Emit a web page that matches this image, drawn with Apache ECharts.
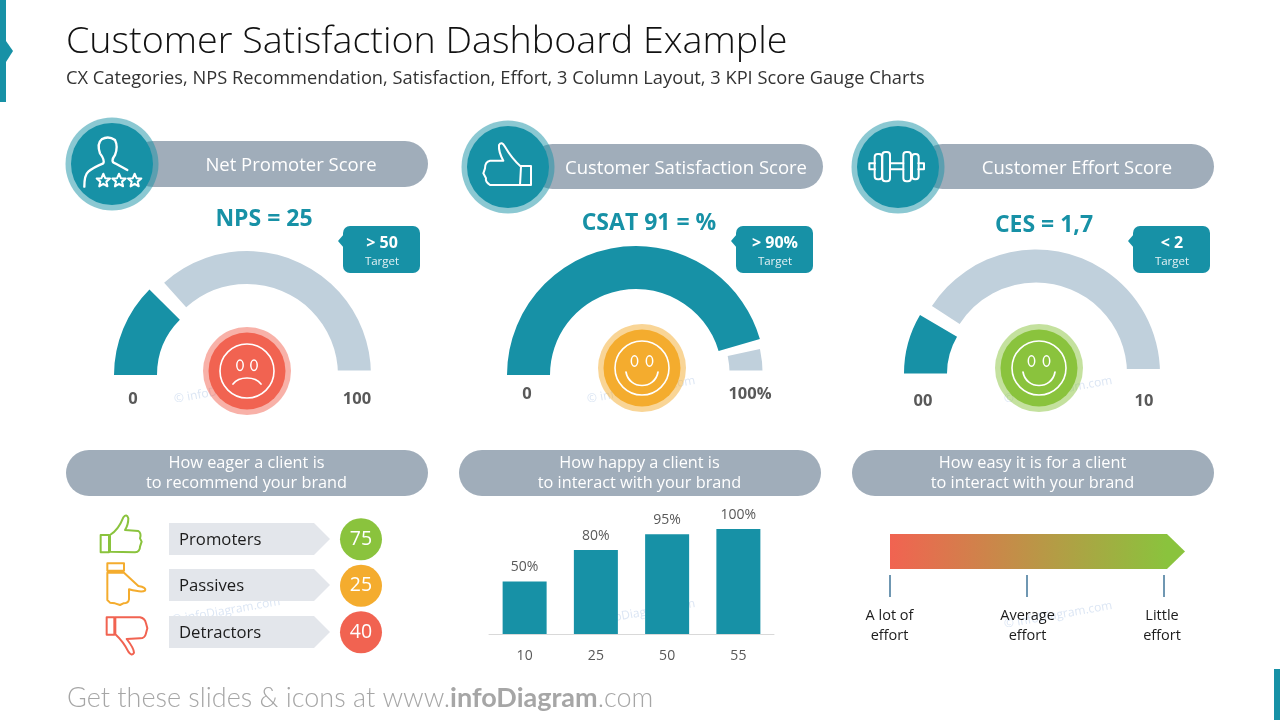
<!DOCTYPE html>
<html>
<head>
<meta charset="utf-8">
<title>Customer Satisfaction Dashboard Example</title>
<script src="https://cdn.jsdelivr.net/npm/echarts@6/dist/echarts.min.js"></script>
<style>
  html, body { margin: 0; padding: 0; background: #fff; }
  #chart { width: 1280px; height: 720px; }
</style>
</head>
<body>
<div id="chart"></div>
<script>
(function (echarts) {
  "use strict";

  var TEAL = '#1791A6', LIGHT = '#C0D0DC', PILL = '#A0ADBA', GREEN = '#8AC33D',
      ORANGE = '#F4AC2E', RED = '#F16351', DARK = '#595959', INK = '#1C1C1C',
      FONT = '"Open Sans", sans-serif';

  // gauge values: filled part, remainder
  var npsGauge = [25, 75];
  var csatGauge = [91, 9];
  var cesGauge = [17, 83];
  // blank part between the two pieces, same units as the gauge
  var gaugeGaps = [1.7, 2.3, 1.3];

  var kpiTitles = ['NPS = 25', 'CSAT 91 = %', 'CES = 1,7'];
  var kpiTargets = ['> 50', '> 90%', '< 2'];
  var scoreNames = ['Net Promoter Score', 'Customer Satisfaction Score', 'Customer Effort Score'];
  var gaugeMin = ['0', '0', '00'];
  var gaugeMax = ['100', '100%', '10'];
  var questions = [
    'How eager a client is\nto recommend your brand',
    'How happy a client is\nto interact with your brand',
    'How easy it is for a client\nto interact with your brand'
  ];

  var npsGroups = ['Promoters', 'Passives', 'Detractors'];
  var npsCounts = [75, 25, 40];
  var npsColors = [GREEN, ORANGE, RED];

  var csatCategories = ['10', '25', '50', '55'];
  var csatValues = [50, 80, 95, 100];

  var effortLabels = ['A lot of\neffort', 'Average\neffort', 'Little\neffort'];

  // half doughnut piece, the bottom half stays off because of endAngle
  function gaugePiece(center, radius, before, value, after, color) {
    var hidden = { color: 'rgba(0,0,0,0)' };
    return {
      type: 'pie',
      center: center,
      radius: radius,
      startAngle: 180,
      endAngle: 0,
      silent: true,
      z: 2,
      label: { show: false },
      labelLine: { show: false },
      data: [
        { value: before, itemStyle: hidden },
        { value: value, itemStyle: { color: color } },
        { value: after, itemStyle: hidden }
      ]
    };
  }

  function text(str, x, y, size, fill, extra) {
    var style = {
      text: str, x: x, y: y + 1, fill: fill, fontSize: size, fontFamily: FONT,
      align: 'center', verticalAlign: 'middle', lineHeight: Math.round(size * 1.3)
    };
    for (var k in (extra || {})) { style[k] = extra[k]; }
    return { type: 'text', z: 20, silent: true, style: style };
  }

  function rect(x, y, w, h, r, fill, z) {
    return { type: 'rect', z: z || 1, silent: true, shape: { x: x, y: y, width: w, height: h, r: r }, style: { fill: fill } };
  }

  function circle(cx, cy, r, style, z) {
    return { type: 'circle', z: z || 10, silent: true, shape: { cx: cx, cy: cy, r: r }, style: style };
  }

  var iconCount = 0;

  // graphic has no plain path type, so each traced outline gets a shape of its own
  // icon paths were traced at 3x, so they get scaled back down
  function icon(ox, oy, d, stroke, width, z) {
    var name = 'iconShape' + (iconCount++);
    echarts.graphic.registerShape(name, echarts.graphic.extendPath(d, {}));
    return {
      type: name, z: z || 12, silent: true, x: ox, y: oy, scaleX: 1 / 3, scaleY: 1 / 3,
      style: { fill: 'none', stroke: stroke, lineWidth: width, lineJoin: 'round', lineCap: 'round' }
    };
  }

  function star(cx, cy, r) {
    var pts = [];
    for (var i = 0; i < 10; i++) {
      var a = -Math.PI / 2 + i * Math.PI / 5, rr = i % 2 ? r * 0.45 : r;
      pts.push((i ? 'L' : 'M') + (cx + rr * Math.cos(a)).toFixed(1) + ' ' + (cy + rr * Math.sin(a)).toFixed(1));
    }
    return pts.join(' ') + ' Z ';
  }

  function watermark(cx, cy) {
    var el = text('\u00a9 infoDiagram.com', 0, 0, 12, '#DCE6F4', {});
    el.z = 0;
    el.x = cx;
    el.y = cy;
    el.rotation = 10 * Math.PI / 180;
    return el;
  }

  function face(cx, cy, color, happy) {
    var d = happy
      ? 'M -16 4 C -13 22 13 22 16 4'
      : 'M -14 13 C -8 5 8 5 14 13';
    var mouth = icon(cx, cy, d, '#fff', 1.7);
    mouth.scaleX = mouth.scaleY = 1;
    var eyeX = happy ? 7.5 : 7, eyeY = happy ? -7 : -5.7;
    return [
      circle(cx, cy, 44, { fill: color, opacity: 0.5 }, 10),
      circle(cx, cy, 38.5, { fill: color }, 11),
      circle(cx, cy, 27, { fill: 'none', stroke: '#fff', lineWidth: 1.6 }, 12),
      { type: 'ellipse', z: 12, silent: true, shape: { cx: cx - eyeX, cy: cy + eyeY, rx: 3.2, ry: 5.2 }, style: { fill: 'none', stroke: '#fff', lineWidth: 1.5 } },
      { type: 'ellipse', z: 12, silent: true, shape: { cx: cx + eyeX, cy: cy + eyeY, rx: 3.2, ry: 5.2 }, style: { fill: 'none', stroke: '#fff', lineWidth: 1.5 } },
      mouth
    ];
  }

  var headers = [
    { x: 130, y: 141, right: 428, h: 46, cx: 112, cy: 164, tx: 291, ty: 165 },
    { x: 530, y: 144, right: 823, h: 45, cx: 508, cy: 167, tx: 686, ty: 168 },
    { x: 920, y: 144, right: 1214, h: 45, cx: 898, cy: 167, tx: 1077, ty: 168 }
  ];
  var callouts = [{ x: 343, y: 226 }, { x: 736, y: 226 }, { x: 1133, y: 226 }];
  var kpiPos = [[264, 218.5], [649, 222], [1044, 224]];
  var minPos = [[133, 398], [527, 393], [923, 400]];
  var maxPos = [[357, 398], [750, 393], [1144, 400]];
  var questionX = [66, 459, 852];

  var elements = [
    rect(0, 0, 6, 102, 0, TEAL),
    { type: 'polygon', z: 1, silent: true, shape: { points: [[6, 41], [13, 51], [6, 62]] }, style: { fill: TEAL } },
    rect(1274, 669, 6, 51, 0, TEAL),
    text('Customer Satisfaction Dashboard Example', 66, 41, 37.65, '#111', { align: 'left', fontWeight: 300 }),
    text('CX Categories, NPS Recommendation, Satisfaction, Effort, 3 Column Layout, 3 KPI Score Gauge Charts', 66, 78, 18.25, '#333', { align: 'left' }),
    {
      type: 'text', z: 20, silent: true,
      style: {
        x: 67, y: 698, verticalAlign: 'middle', align: 'left', fontFamily: 'Lato, sans-serif', fontSize: 27, fontWeight: 300, fill: '#A6A6A6',
        text: 'Get these slides & icons at www.{b|infoDiagram}.com',
        rich: { b: { fontWeight: 'bold', fontSize: 27, fontFamily: 'Lato, sans-serif', fill: '#A6A6A6' } }
      }
    },
    watermark(228, 389), watermark(641, 389), watermark(1058, 389),
    watermark(226, 610), watermark(641, 612), watermark(1058, 614)
  ];

  headers.forEach(function (h, i) {
    elements.push(rect(h.x, h.y, h.right - h.x, h.h, h.h / 2, PILL, 1));
    elements.push(circle(h.cx, h.cy, 46.5, { fill: TEAL, opacity: 0.5 }, 3));
    elements.push(circle(h.cx, h.cy, 41, { fill: TEAL }, 4));
    elements.push(text(scoreNames[i], h.tx, h.ty, 18.5, '#fff'));

    var c = callouts[i];
    elements.push(rect(c.x, c.y, 77, 47, 7, TEAL, 3));
    elements.push({ type: 'polygon', z: 3, silent: true, shape: { points: [[c.x + 1, c.y + 8], [c.x - 5, c.y + 15], [c.x + 1, c.y + 22]] }, style: { fill: TEAL } });
    elements.push(text(kpiTargets[i], c.x + 39, c.y + 16.5, 16, '#fff', { fontWeight: 'bold' }));
    elements.push(text('Target', c.x + 39, c.y + 35, 11.5, '#E4F1F4'));

    elements.push(text(kpiTitles[i], kpiPos[i][0], kpiPos[i][1], 23, TEAL, { fontWeight: 'bold' }));
    elements.push(text(gaugeMin[i], minPos[i][0], minPos[i][1], 16.5, DARK, { fontWeight: 'bold' }));
    elements.push(text(gaugeMax[i], maxPos[i][0], maxPos[i][1], 16.5, DARK, { fontWeight: 'bold' }));

    elements.push(rect(questionX[i], 450, 362, 46, 23, PILL, 1));
    elements.push(text(questions[i], questionX[i] + 180.5, 472.5, 16.3, '#fff', { lineHeight: 20 }));
  });

  // header icons
  elements.push(icon(50, 110, 'M103 230 Q103 195 115 185 Q130 172 160 160 Q165 150 150 130 Q140 100 155 88 Q175 76 195 90 Q205 110 195 135 Q180 155 195 160 L232 180', '#fff', 7));
  elements.push(icon(50, 110, star(160, 212, 21) + star(207, 212, 21) + star(254, 212, 21), '#fff', 6));
  elements.push(icon(450, 110, 'M213 168 L243 168 L243 225 L213 225 M210 225 L120 225 Q105 215 108 205 L100 190 L105 175 Q105 155 120 152 L160 152 Q145 125 147 105 Q155 92 165 110 Q185 145 213 170 Z', '#fff', 6));
  elements.push(icon(840, 110, 'M152 160 L190 160 M152 178 L190 178 M105 160 L88 160 L88 178 L105 178 M235 160 L252 160 L252 178 L235 178', '#fff', 6));
  [[104, 132, 22, 76], [127, 126, 23, 88], [190, 126, 23, 88], [216, 132, 20, 76]].forEach(function (p) {
    elements.push({
      type: 'rect', z: 12, silent: true, x: 840, y: 110, scaleX: 1 / 3, scaleY: 1 / 3,
      shape: { x: p[0], y: p[1], width: p[2], height: p[3], r: 9 },
      style: { fill: 'none', stroke: '#fff', lineWidth: 6 }
    });
  });

  // white bands cut the low end of the remainder pieces flat, above the teal baseline
  elements.push(rect(333, 370.5, 42, 6, 0, '#fff', 5));
  elements.push(rect(724, 370.5, 44, 6, 0, '#fff', 5));
  elements.push(rect(1122, 369, 42, 6, 0, '#fff', 5));

  elements = elements.concat(face(247, 371, RED, false), face(642, 368, ORANGE, true), face(1039, 368, GREEN, true));

  // NPS group rows
  var arrowY = [523, 569, 616];
  npsGroups.forEach(function (name, i) {
    var y = arrowY[i];
    elements.push({
      type: 'polygon', z: 1, silent: true,
      shape: { points: [[169, y], [314, y], [330, y + 16], [314, y + 32], [169, y + 32]] },
      style: { fill: '#E3E6EB' }
    });
    elements.push(text(name, 179, y + 16, 16.7, INK, { align: 'left' }));
  });

  elements.push(icon(60, 500, 'M122 105 L147 105 L147 157 L122 157 Z M150 155 L150 105 Q175 90 190 52 Q200 40 205 55 Q205 75 195 90 L235 93 Q245 100 240 115 L245 125 L240 140 Q240 155 225 157 Z', GREEN, 6, 3));
  elements.push(icon(60, 500, 'M142 190 L192 190 L192 212 L142 212 Z M142 218 L192 218 L235 258 Q260 262 255 272 Q245 278 207 268 L207 298 Q205 310 190 310 L180 315 L165 310 L150 308 L142 300 Z', ORANGE, 6, 3));
  elements.push(icon(60, 500, 'M140 352 L163 352 L163 404 L140 404 Z M166 352 L240 352 Q255 355 258 370 L262 385 L258 400 Q255 415 240 415 L200 417 Q222 445 222 458 Q215 470 205 455 Q190 425 166 403 Z', RED, 6, 3));

  // effort scale
  elements.push({
    type: 'polygon', z: 1, silent: true,
    shape: { points: [[890, 534], [1167, 534], [1185, 551.5], [1167, 569], [890, 569]] },
    style: {
      fill: new echarts.graphic.LinearGradient(0, 0, 1, 0, [
        { offset: 0, color: RED },
        { offset: 0.94, color: GREEN },
        { offset: 1, color: GREEN }
      ])
    }
  });
  var effortTickX = [890, 1027, 1164];
  var effortTextX = [889.5, 1027.5, 1162];
  effortLabels.forEach(function (label, i) {
    elements.push(rect(effortTickX[i] - 1, 575, 2, 22, 0, '#6F97B2', 1));
    elements.push(text(label, effortTextX[i], 625, 14.5, INK, { lineHeight: 19.5 }));
  });

  var option = {
    animation: false,
    backgroundColor: '#fff',
    textStyle: { fontFamily: FONT },
    grid: [
      { left: 489, top: 529, width: 285, height: 105 },
      { left: 340, top: 516, width: 42, height: 139.5 }
    ],
    xAxis: [
      {
        type: 'category',
        gridIndex: 0,
        data: csatCategories,
        axisTick: { show: false },
        axisLine: { lineStyle: { color: '#D9D9D9', width: 1 } },
        axisLabel: { color: DARK, fontSize: 14, margin: 15, fontFamily: FONT }
      },
      { type: 'value', gridIndex: 1, min: -1, max: 1, show: false }
    ],
    yAxis: [
      { type: 'value', gridIndex: 0, min: 0, max: 100, show: false },
      { type: 'category', gridIndex: 1, inverse: true, data: npsGroups, show: false }
    ],
    series: [
      gaugePiece([235, 375], [78, 121], 0, npsGauge[0], npsGauge[1], TEAL),
      gaugePiece([247, 375], [91, 124], npsGauge[0] + gaugeGaps[0], npsGauge[1] - gaugeGaps[0], 0, LIGHT),
      gaugePiece([636, 375], [86, 129], 0, csatGauge[0], csatGauge[1], TEAL),
      gaugePiece([638.7, 375], [91, 124], csatGauge[0] + gaugeGaps[1], csatGauge[1] - gaugeGaps[1], 0, LIGHT),
      gaugePiece([1019, 373.5], [72, 115], 0, cesGauge[0], cesGauge[1], TEAL),
      gaugePiece([1036, 373.5], [91, 124], cesGauge[0] + gaugeGaps[2], cesGauge[1] - gaugeGaps[2], 0, LIGHT),
      {
        type: 'bar',
        xAxisIndex: 0,
        yAxisIndex: 0,
        barWidth: 44,
        itemStyle: { color: TEAL },
        label: { show: true, position: 'top', distance: 7, color: DARK, fontSize: 14, fontFamily: FONT, formatter: '{c}%' },
        data: csatValues
      },
      {
        type: 'scatter',
        xAxisIndex: 1,
        yAxisIndex: 1,
        symbolSize: 42,
        label: {
          show: true, position: 'inside', color: '#fff', fontSize: 19.5, fontFamily: FONT,
          formatter: function (p) { return npsCounts[p.dataIndex]; }
        },
        data: npsGroups.map(function (name, i) {
          return { value: [0, name], itemStyle: { color: npsColors[i], opacity: 1 } };
        })
      }
    ],
    graphic: { elements: elements }
  };

  var chart = echarts.init(document.getElementById('chart'));
  chart.setOption(option);
})(echarts);
</script>
</body>
</html>
